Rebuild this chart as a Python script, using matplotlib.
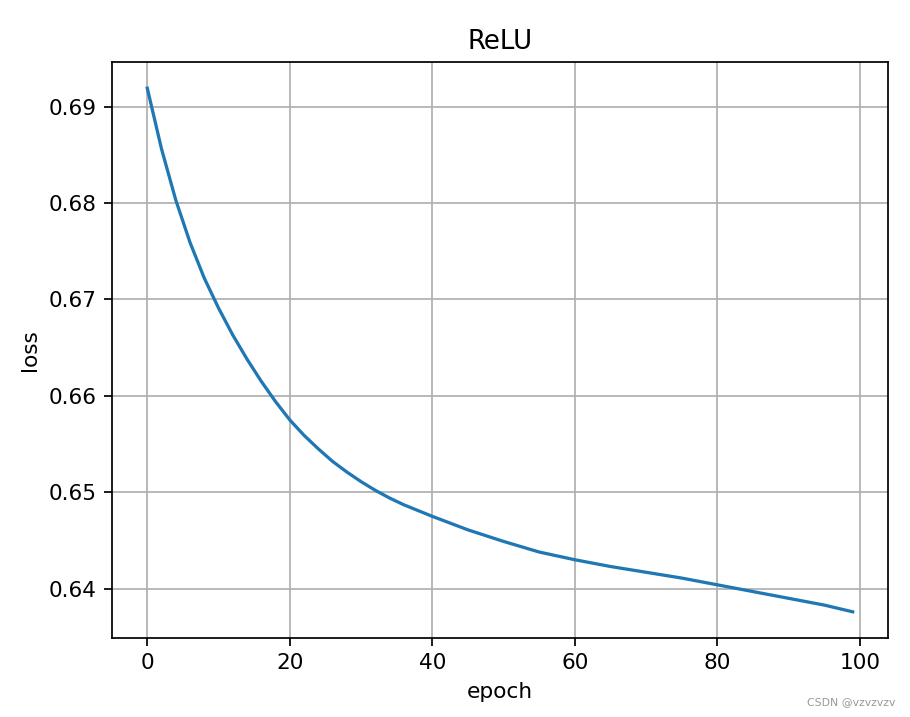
import matplotlib
matplotlib.use("Agg")
import matplotlib.pyplot as plt

# loss values
epochs = [0, 2, 4, 6, 8, 10, 12, 14, 16, 18, 20, 22, 24, 26, 28, 30, 32, 34, 36, 38,
          40, 45, 50, 55, 60, 65, 70, 75, 80, 85, 90, 95, 99]
loss = [0.6919, 0.6856, 0.6803, 0.6759, 0.6722, 0.6691, 0.6663, 0.6638, 0.6615, 0.6594,
        0.6575, 0.6559, 0.6545, 0.6532, 0.6521, 0.6511, 0.6502, 0.6494, 0.6487, 0.6481,
        0.6475, 0.6461, 0.6449, 0.6438, 0.6430, 0.6423, 0.6417, 0.6411, 0.6404,
        0.6397, 0.6390, 0.6383, 0.6376]

fig = plt.figure(figsize=(910 / 156, 717 / 156), dpi=156)
ax = fig.add_axes([112 / 910, 79 / 717, 776 / 910, 576 / 717])

ax.plot(epochs, loss)
ax.set_title("ReLU")
ax.set_xlabel("epoch")
ax.set_ylabel("loss")
ax.grid(True)

fig.text(895 / 910, 10 / 717, "CSDN @vzvzvzv", ha="right", va="bottom",
         fontsize=5, color="#999999")

fig.savefig("out.png", dpi=156)
